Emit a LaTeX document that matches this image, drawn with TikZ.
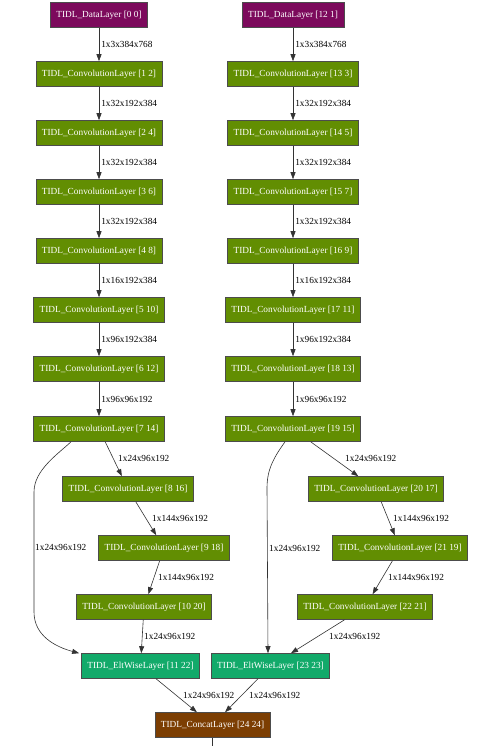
\documentclass[tikz,border=0pt]{standalone}
\usepackage{fontspec}
\setmainfont{Liberation Serif}
\usetikzlibrary{arrows.meta}
\definecolor{datac}{RGB}{124,10,92}
\definecolor{convc}{RGB}{98,142,2}
\definecolor{eltc}{RGB}{18,170,106}
\definecolor{catc}{RGB}{124,62,2}
\begin{document}
\begin{tikzpicture}[x=1pt,y=-1pt,
  box/.style={draw=black!70, line width=0.6pt, text=white,
    font=\fontsize{9.3}{10}\selectfont, inner xsep=6pt, inner ysep=0pt,
    minimum height=25pt},
  datab/.style={box, fill=datac},
  convb/.style={box, fill=convc},
  eltb/.style={box, fill=eltc},
  catb/.style={box, fill=catc},
  lbl/.style={font=\fontsize{9.3}{10}\selectfont, inner sep=0pt, anchor=west},
  mlbl/.style={lbl, xshift=2pt},
  edge/.style={draw=black!80, line width=0.6pt, -{Triangle[length=7pt,width=5pt]}}]
\useasboundingbox (0,0) rectangle (498,746);

% left column
\node[datab] (n0) at (99,15) {TIDL\_DataLayer [0 0]};
\node[convb] (n1) at (99,74) {TIDL\_ConvolutionLayer [1 2]};
\node[convb] (n2) at (99,133) {TIDL\_ConvolutionLayer [2 4]};
\node[convb] (n3) at (99,192) {TIDL\_ConvolutionLayer [3 6]};
\node[convb] (n4) at (99,251) {TIDL\_ConvolutionLayer [4 8]};
\node[convb] (n5) at (99,310) {TIDL\_ConvolutionLayer [5 10]};
\node[convb] (n6) at (99,369) {TIDL\_ConvolutionLayer [6 12]};
\node[convb] (n7) at (99,429) {TIDL\_ConvolutionLayer [7 14]};
\node[convb] (n8) at (128,489) {TIDL\_ConvolutionLayer [8 16]};
\node[convb] (n9) at (164,548) {TIDL\_ConvolutionLayer [9 18]};
\node[convb] (n10) at (144,607) {TIDL\_ConvolutionLayer [10 20]};
\node[eltb] (n11) at (140.5,666) {TIDL\_EltWiseLayer [11 22]};

% right column
\node[datab] (n12) at (293,15) {TIDL\_DataLayer [12 1]};
\node[convb] (n13) at (293,74) {TIDL\_ConvolutionLayer [13 3]};
\node[convb] (n14) at (293,133) {TIDL\_ConvolutionLayer [14 5]};
\node[convb] (n15) at (293,192) {TIDL\_ConvolutionLayer [15 7]};
\node[convb] (n16) at (293,251) {TIDL\_ConvolutionLayer [16 9]};
\node[convb] (n17) at (293,310) {TIDL\_ConvolutionLayer [17 11]};
\node[convb] (n18) at (293,369) {TIDL\_ConvolutionLayer [18 13]};
\node[convb] (n19) at (293,429) {TIDL\_ConvolutionLayer [19 15]};
\node[convb] (n20) at (376,489) {TIDL\_ConvolutionLayer [20 17]};
\node[convb] (n21) at (400,548) {TIDL\_ConvolutionLayer [21 19]};
\node[convb] (n22) at (365,607) {TIDL\_ConvolutionLayer [22 21]};
\node[eltb] (n23) at (270.5,666) {TIDL\_EltWiseLayer [23 23]};

\node[catb] (n24) at (212.5,725) {TIDL\_ConcatLayer [24 24]};
\coordinate (out) at (212.5,750);

% left main edges
\draw[edge] (n0) -- node[mlbl] (a1) {1x3x384x768} (n1);
\draw[edge] (n1) -- node[mlbl] (a2) {1x32x192x384} (n2);
\draw[edge] (n2) -- node[mlbl] (a3) {1x32x192x384} (n3);
\draw[edge] (n3) -- node[mlbl] (a4) {1x32x192x384} (n4);
\draw[edge] (n4) -- node[mlbl] (a5) {1x16x192x384} (n5);
\draw[edge] (n5) -- node[mlbl] (a6) {1x96x192x384} (n6);
\draw[edge] (n6) -- node[mlbl] (a7) {1x96x96x192} (n7);

% right main edges
\draw[edge] (n12) -- node[mlbl] (b1) {1x3x384x768} (n13);
\draw[edge] (n13) -- node[mlbl] (b2) {1x32x192x384} (n14);
\draw[edge] (n14) -- node[mlbl] (b3) {1x32x192x384} (n15);
\draw[edge] (n15) -- node[mlbl] (b4) {1x32x192x384} (n16);
\draw[edge] (n16) -- node[mlbl] (b5) {1x16x192x384} (n17);
\draw[edge] (n17) -- node[mlbl] (b6) {1x96x192x384} (n18);
\draw[edge] (n18) -- node[mlbl] (b7) {1x96x96x192} (n19);

% left branch
\draw[edge] (n7) -- (n8);
\node[lbl] (a8) at (118,458) {1x24x96x192};
\draw[edge] (n8) -- (n9);
\node[lbl] (a9) at (152,518) {1x144x96x192};
\draw[edge] (n9) -- (n10);
\node[lbl] (a10) at (158,577) {1x144x96x192};
\draw[edge] (n10) -- (n11);
\node[lbl] (a11) at (144,636) {1x24x96x192};
\draw[edge] ([xshift=-28pt]n7.south) .. controls (58,454) and (34,470) .. (34,492)
  -- (34,612) .. controls (34,636) and (56,647) .. ([xshift=-2pt]n11.north west);
\node[lbl] (a12) at (35,547) {1x24x96x192};

% right branch
\draw[edge] (n19) -- (n20);
\node[lbl] (b8) at (345,458) {1x24x96x192};
\draw[edge] (n20) -- (n21);
\node[lbl] (b9) at (393,518) {1x144x96x192};
\draw[edge] (n21) -- (n22);
\node[lbl] (b10) at (388,577) {1x144x96x192};
\draw[edge] (n22) -- (n23);
\node[lbl] (b11) at (329,636) {1x24x96x192};
\draw[edge] ([xshift=-8pt]n19.south) .. controls (275,456) and (267,468) .. (267,488)
  -- ([xshift=-2.5pt]n23.north);
\node[lbl] (b12) at (269,548) {1x24x96x192};

% to concat
\draw[edge] (n11) -- (n24);
\node[lbl] (c1) at (183,695) {1x24x96x192};
\draw[edge] (n23) -- (n24);
\node[lbl] (c2) at (249,695) {1x24x96x192};
\draw[draw=black!80, line width=0.6pt] (n24) -- (out);
\end{tikzpicture}
\end{document}
